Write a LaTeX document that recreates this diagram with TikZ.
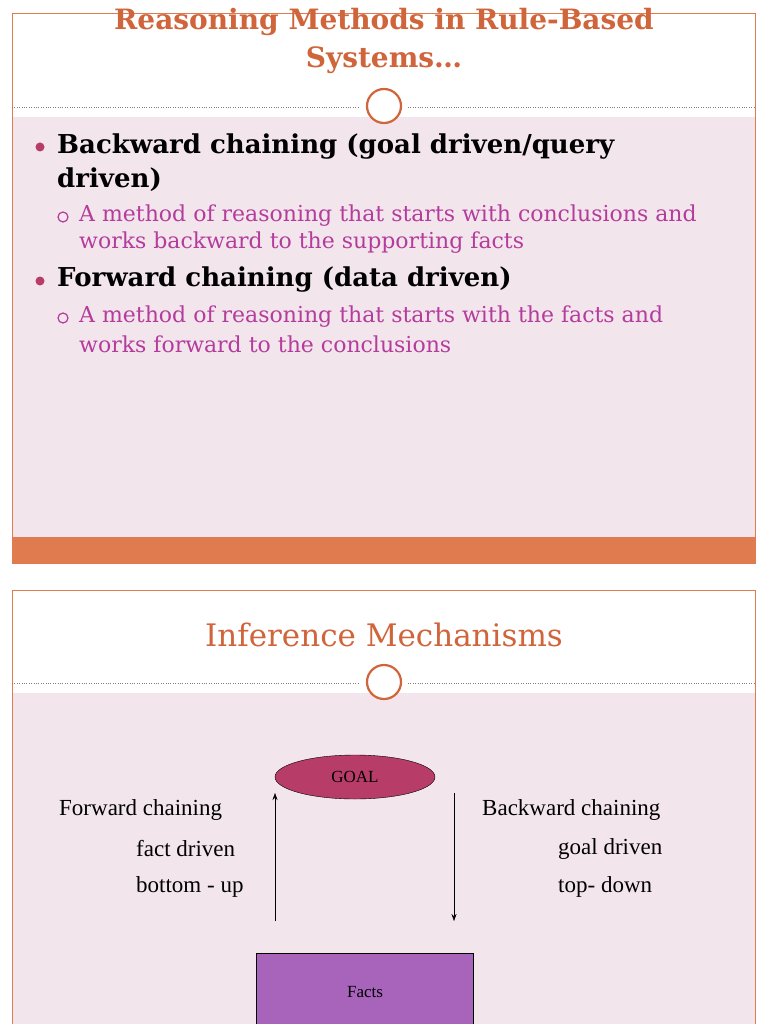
\documentclass[tikz,border=0pt]{standalone}
\usepackage{fontspec}
\usetikzlibrary{shapes.geometric,arrows.meta}
\setmainfont{Liberation Serif}
\newfontfamily\wide{DejaVu Serif}
\definecolor{org}{HTML}{D0643A}
\definecolor{frm}{HTML}{E07B4F}
\definecolor{pnk}{HTML}{F3E5EC}
\definecolor{mag}{HTML}{B43C9C}
\definecolor{dot}{HTML}{B83C68}
\definecolor{goal}{HTML}{B83C68}
\definecolor{fct}{HTML}{A864BA}
\tikzset{
 fs/.style={font=\fontsize{#1}{#1}\selectfont},
 ws/.style={font=\wide\fontsize{#1}{#1}\selectfont},
 txt/.style={anchor=west,inner sep=0},
 ring/.style={circle,draw=org,line width=2.2pt,fill=white,minimum size=34pt,inner sep=0},
}
\begin{document}
\begin{tikzpicture}[x=1pt,y=-1pt]
\useasboundingbox (0,0) rectangle (768,1024);
\fill[white] (0,0) rectangle (768,1024);
% slide 1
\fill[pnk] (12,117) rectangle (755,537);
\fill[frm] (12,537) rectangle (755,563);
\draw[frm,line width=0.8pt] (12,13) rectangle (755,563);
\draw[gray,dotted] (12,107) -- (755,107);
\draw[white,line width=14pt] (360,107) -- (408,107);
\node[ring] (r1) at (384,106) {};
\node[text=org,font=\wide\bfseries\fontsize{28}{38}\selectfont,align=center] (t1) at (384,41) {Reasoning Methods in Rule-Based\\Systems…};
\foreach \y/\s in {147/{Backward chaining (goal driven/query},180/{driven)},280/{Forward chaining (data driven)}}
 \node[txt,font=\wide\bfseries\fontsize{26}{26}\selectfont] at (57,\y) {\s};
\fill[dot] (40,147) circle (4.5);
\fill[dot] (40,281) circle (4.5);
\draw[mag,line width=1.2pt] (63,217) circle (5);
\draw[mag,line width=1.2pt] (63,318) circle (5);
\foreach \y/\s in {216/{A method of reasoning that starts with conclusions and},243/{works backward to the supporting facts},317/{A method of reasoning that starts with the facts and},344/{works forward to the conclusions}}
 \node[txt,text=mag,ws=22] at (79,\y) {\s};
% slide 2
\fill[pnk] (12,693) rectangle (755,1024);
\draw[frm,line width=0.8pt] (12,1030) -- (12,590) -- (755,590) -- (755,1030);
\draw[gray,dotted] (12,683) -- (755,683);
\draw[white,line width=14pt] (360,683) -- (408,683);
\node[ring] (r2) at (384,682) {};
\node[ws=31,text=org] (t2) at (384,635) {Inference Mechanisms};
\node[ellipse,draw=black,fill=goal,minimum width=160pt,minimum height=44pt,inner sep=0,fs=17] (g) at (355,777) {GOAL};
\node[draw=black,fill=fct,minimum width=217pt,minimum height=80pt,anchor=north west,fs=17,inner sep=0] (f) at (256,953) {};
\node[fs=17] at (365,992) {Facts};
\coordinate (a1) at (275,921); \coordinate (a2) at (275,793);
\coordinate (b1) at (454,793); \coordinate (b2) at (454,921);
\draw[-{Stealth[length=7pt,width=5pt]}] (a1) -- (a2);
\draw[-{Stealth[length=7pt,width=5pt]}] (b1) -- (b2);
\foreach \x/\y/\s in {59/810/Forward chaining,136/849/fact driven,136/887/bottom - up,482/810/Backward chaining,558/849/goal driven,558/887/top- down}
 \node[txt,fs=23] at (\x,\y) {\s};
\end{tikzpicture}
\end{document}
